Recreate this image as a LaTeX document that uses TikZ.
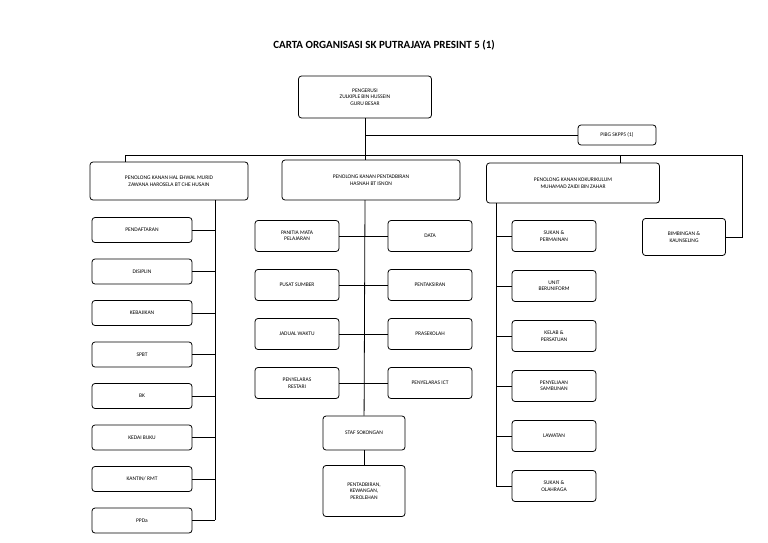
\documentclass[tikz,border=0pt]{standalone}
\usepackage{fontspec}
\setmainfont{Carlito}
\begin{document}
\begin{tikzpicture}[x=1pt,y=-1pt,
    box/.style={draw, thick, rounded corners=3pt, align=center, font=\fontsize{5.5}{6.5}\selectfont, inner sep=1pt},
    unit/.style={box, minimum width=100pt, minimum height=25pt},
    sub/.style={box, minimum width=84pt, minimum height=31pt},
    line/.style={thick}]
    \useasboundingbox (0,0) rectangle (768,543);
    \node[font=\bfseries\fontsize{11}{13}\selectfont] (title) at (384,45) {CARTA ORGANISASI SK PUTRAJAYA PRESINT 5 (1)};
    % pengurusan atasan
    \node[box, minimum width=133pt, minimum height=42pt] (gb) at (365,97) {PENGERUSI\\ZULKIPLE BIN HUSSEIN\\GURU BESAR};
    \node[box, minimum width=78pt, minimum height=20pt] (pibg) at (617,135) {PIBG SKPP5 (1)};
    \node[box, minimum width=158pt, minimum height=38pt] (hem) at (169,181) {PENOLONG KANAN HAL EHWAL MURID\\ZAWANA HAROSELA BT CHE HUSAIN};
    \node[box, minimum width=178pt, minimum height=40pt] (ptd) at (371,180) {PENOLONG KANAN PENTADBIRAN\\HASNAH BT ISNON};
    \node[box, minimum width=173pt, minimum height=40pt] (koku) at (573,183) {PENOLONG KANAN KOKURIKULUM\\MUHAMAD ZAIDI BIN ZAHAR};
    \node[box, minimum width=83pt, minimum height=37pt] (bk) at (684,237) {BIMBINGAN \&\\KAUNSELING};
    \coordinate (jt) at (365,155);
    \draw[line] (gb) -- (jt);
    \draw[line] (365,135) -- (pibg.west);
    \draw[line] (125,155) -- (742,155);
    \draw[line] (125,155) -- (125,162);
    \draw[line] (jt) -- (365,160);
    \draw[line] (620,155) -- (620,163);
    \draw[line] (742,155) |- (bk.east);
    % hal ehwal murid
    \foreach \t [count=\i] in {PENDAFTARAN,DISIPLIN,KEBAJIKAN,SPBT,BK,KEDAI BUKU,KANTIN/ RMT,PPDa}
    {
        \pgfmathsetmacro{\yy}{230+41.5*(\i-1)}
        \node[unit] (hem\i) at (142,\yy) {\t};
        \draw[line] (hem\i.east) -- (215,\yy);
    }
    \draw[line] (215,200) -- (215,520);
    % pentadbiran
    \foreach \l/\r [count=\i] in {{PANITIA MATA\\PELAJARAN}/DATA,PUSAT SUMBER/PENTAKSIRAN,JADUAL WAKTU/PRASEKOLAH,{PENYELARAS\\RESTARI}/PENYELARAS ICT}
    {
        \pgfmathsetmacro{\yy}{236+49*(\i-1)}
        \node[sub] (pl\i) at (297,\yy) {\l};
        \node[sub] (pr\i) at (430,\yy) {\r};
        \draw[line] (pl\i) -- (pr\i);
    }
    \node[box, minimum width=82pt, minimum height=34pt] (staf) at (364,433) {STAF SOKONGAN};
    \node[box, minimum width=82pt, minimum height=51pt] (pkp) at (364,491) {PENTADBIRAN,\\KEWANGAN,\\PEROLEHAN};
    \draw[line] (365,200) -- (staf);
    \draw[line] (staf) -- (pkp);
    % kokurikulum
    \foreach \t [count=\i] in {{SUKAN \&\\PERMAINAN},{UNIT\\BERUNIFORM},{KELAB \&\\PERSATUAN},{PENYELIAAN\\SAMBUNAN},LAWATAN,{SUKAN \&\\OLAHRAGA}}
    {
        \pgfmathsetmacro{\yy}{236+50*(\i-1)}
        \node[sub] (ko\i) at (554,\yy) {\t};
        \draw[line] (496,\yy) -- (ko\i.west);
    }
    \draw[line] (496,203) -- (496,486);
\end{tikzpicture}
\end{document}
